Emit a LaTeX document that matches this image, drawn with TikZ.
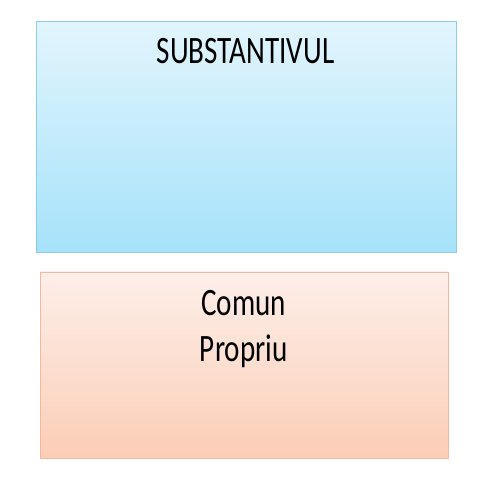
\documentclass[tikz,border=0pt]{standalone}
\usepackage{fontspec}
\usepackage{tikz}
\usetikzlibrary{positioning}
\newfontfamily\boxfont[FakeStretch=0.75]{Carlito}
\definecolor{skytop}{RGB}{226,245,253}
\definecolor{skybot}{RGB}{166,226,250}
\definecolor{skyline}{RGB}{140,205,230}
\definecolor{peachtop}{RGB}{253,239,233}
\definecolor{peachbot}{RGB}{251,205,182}
\definecolor{peachline}{RGB}{240,185,160}
\tikzstyle{bluebox} = [rectangle, minimum width=420pt, minimum height=230.7pt, inner sep=0pt, draw=skyline, top color=skytop, bottom color=skybot]
\tikzstyle{peachbox} = [rectangle, minimum width=408.3pt, minimum height=186.6pt, inner sep=0pt, draw=peachline, top color=peachtop, bottom color=peachbot]
\tikzstyle{word} = [anchor=base, inner sep=0pt, font=\boxfont\fontsize{38.8}{46.6}\selectfont]

\begin{document}
\begin{tikzpicture}[x=1pt, y=-1pt]
		\useasboundingbox (0,0) rectangle (480,480);
		\node (top) [bluebox] at (245.85,136.35) {};
		\node (bottom) [peachbox] at (244.15,365) {};
		\node (subst) [word] at (245.5,63.3) {SUBSTANTIVUL};
		\node (comun) [word] at (243.7,315) {Comun};
		\node (propriu) [word] at (243.7,361.7) {Propriu};
		\end{tikzpicture}
\end{document}
